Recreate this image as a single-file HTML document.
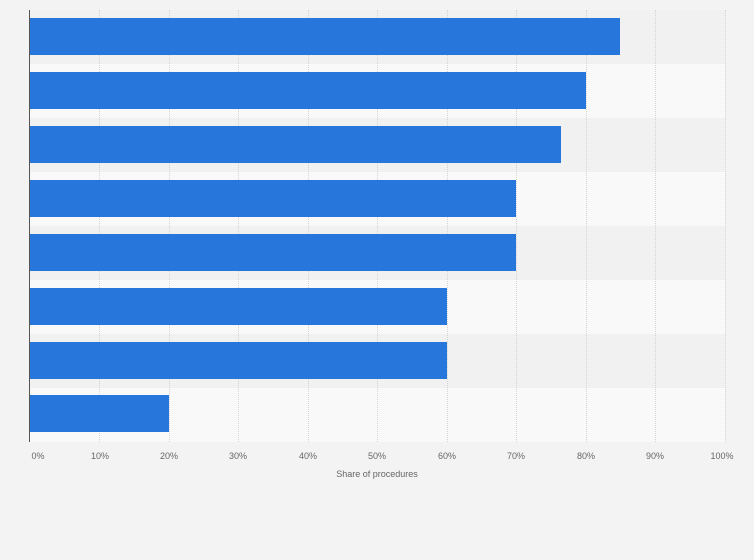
<!DOCTYPE html>
<html><head><style>
body{margin:0;width:754px;height:560px;background:#f3f3f3;font-family:"Liberation Sans",sans-serif;position:relative;overflow:hidden}
.a{position:absolute}
.band{position:absolute;left:30px;width:695px;height:54px}
.bar{position:absolute;left:30px;height:37px;background:#2776dc}
.g{position:absolute;top:10px;height:432px;border-left:1px dotted #d4d4d4}
.t{position:absolute;top:451px;font-size:9px;color:#666;width:40px;text-align:center}
</style></head><body>
<div class="band" style="top:10px;background:#f1f1f1"></div>
<div class="band" style="top:64px;background:#f9f9f9"></div>
<div class="band" style="top:118px;background:#f1f1f1"></div>
<div class="band" style="top:172px;background:#f9f9f9"></div>
<div class="band" style="top:226px;background:#f1f1f1"></div>
<div class="band" style="top:280px;background:#f9f9f9"></div>
<div class="band" style="top:334px;background:#f1f1f1"></div>
<div class="band" style="top:388px;background:#f9f9f9;height:54px"></div>
<div class="g" style="left:99px"></div><div class="g" style="left:169px"></div><div class="g" style="left:238px"></div><div class="g" style="left:308px"></div><div class="g" style="left:377px"></div><div class="g" style="left:447px"></div><div class="g" style="left:516px"></div><div class="g" style="left:586px"></div><div class="g" style="left:655px"></div><div class="g" style="left:725px"></div>
<div class="bar" style="top:18px;width:590px"></div>
<div class="bar" style="top:72px;width:556px"></div>
<div class="bar" style="top:126px;width:531px"></div>
<div class="bar" style="top:180px;width:486px"></div>
<div class="bar" style="top:234px;width:486px"></div>
<div class="bar" style="top:288px;width:417px"></div>
<div class="bar" style="top:342px;width:417px"></div>
<div class="bar" style="top:395px;width:139px"></div>
<div class="a" style="left:29px;top:10px;width:1px;height:432px;background:#555"></div>
<div class="t" style="left:18px">0%</div><div class="t" style="left:80px">10%</div><div class="t" style="left:149px">20%</div><div class="t" style="left:218px">30%</div><div class="t" style="left:288px">40%</div><div class="t" style="left:357px">50%</div><div class="t" style="left:427px">60%</div><div class="t" style="left:496px">70%</div><div class="t" style="left:566px">80%</div><div class="t" style="left:635px">90%</div><div class="t" style="left:702px">100%</div>
<div class="a" style="left:277px;width:200px;top:469px;text-align:center;font-size:9px;color:#666">Share of procedures</div>
</body></html>
